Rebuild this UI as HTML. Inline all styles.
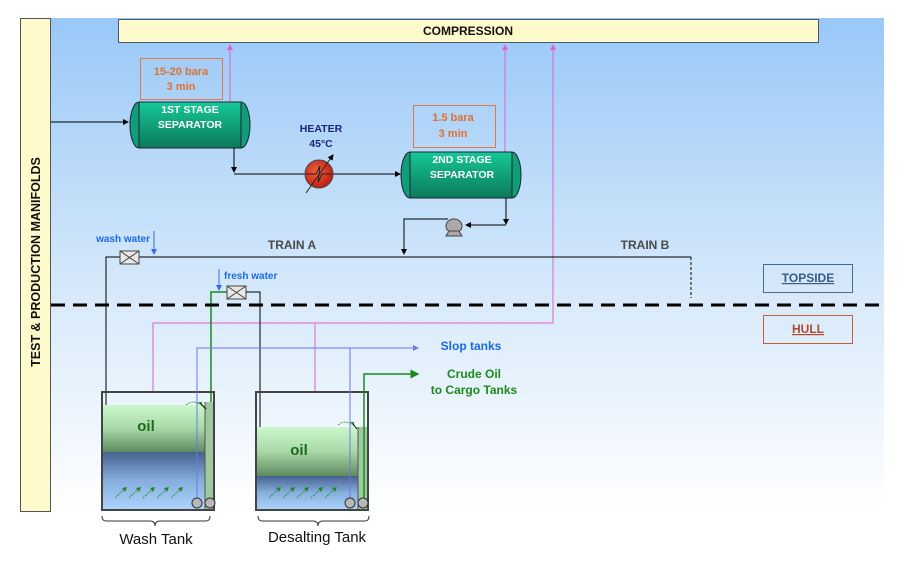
<!DOCTYPE html>
<html><head><meta charset="utf-8"><style>
html,body{margin:0;padding:0;background:#fff;width:910px;height:576px;overflow:hidden}
text{font-family:"Liberation Sans",Arial,sans-serif}
</style></head><body>
<svg width="910" height="576" viewBox="0 0 910 576" xmlns="http://www.w3.org/2000/svg">
<defs>
<linearGradient id="bg" x1="0" y1="0" x2="0" y2="1">
<stop offset="0" stop-color="#99c8f8"/><stop offset="0.55" stop-color="#d6e9fa"/><stop offset="1" stop-color="#ffffff"/></linearGradient>
<linearGradient id="sep" x1="0" y1="0" x2="0" y2="1">
<stop offset="0" stop-color="#16c898"/><stop offset="1" stop-color="#0a7a5a"/></linearGradient>
<linearGradient id="oil" x1="0" y1="0" x2="0" y2="1">
<stop offset="0" stop-color="#ccf8cc"/><stop offset="0.5" stop-color="#a8d8a8"/><stop offset="1" stop-color="#5e8a60"/></linearGradient>
<linearGradient id="wat" x1="0" y1="0" x2="0" y2="1">
<stop offset="0" stop-color="#46628e"/><stop offset="0.5" stop-color="#86aede"/><stop offset="1" stop-color="#aad2fa"/></linearGradient>
<radialGradient id="heat" cx="0.4" cy="0.4" r="0.6"><stop offset="0" stop-color="#f06040"/><stop offset="1" stop-color="#c02010"/></radialGradient>
<marker id="a" markerWidth="6" markerHeight="6" refX="5" refY="3" orient="auto"><path d="M0,0 L6,3 L0,6z" fill="#000"/></marker>
<marker id="ap" markerWidth="6" markerHeight="6" refX="5" refY="3" orient="auto"><path d="M0,0 L6,3 L0,6z" fill="#e060d0"/></marker>
<marker id="ab" markerWidth="6" markerHeight="6" refX="5" refY="3" orient="auto"><path d="M0,0 L6,3 L0,6z" fill="#3a6ae8"/></marker>
<marker id="as" markerWidth="6" markerHeight="6" refX="5" refY="3" orient="auto"><path d="M0,0 L6,3 L0,6z" fill="#6a7ae8"/></marker>
<marker id="ag" markerWidth="6" markerHeight="6" refX="5" refY="3" orient="auto"><path d="M0,0 L6,3 L0,6z" fill="#1a8a1a"/></marker>
</defs>
<rect x="20" y="18" width="864" height="494" fill="url(#bg)"/>
<rect x="20.5" y="18.5" width="30" height="493" fill="#fffacc" stroke="#555"/>
<text transform="translate(40,262) rotate(-90)" text-anchor="middle" font-size="12.5" font-weight="bold" fill="#111">TEST &amp; PRODUCTION MANIFOLDS</text>
<rect x="118.5" y="19.5" width="700" height="23" fill="#fffacc" stroke="#4a5a6a"/>
<text x="468" y="35" text-anchor="middle" font-size="12" font-weight="bold" fill="#111">COMPRESSION</text>
<line x1="51" y1="122" x2="128" y2="122" stroke="#000" marker-end="url(#a)"/>
<rect x="140.5" y="58.5" width="82" height="41" fill="none" stroke="#e0784a"/>
<text x="181" y="75" text-anchor="middle" font-size="11" font-weight="bold" fill="#e07030">15-20 bara</text>
<text x="181" y="90" text-anchor="middle" font-size="11" font-weight="bold" fill="#e07030">3 min</text>
<rect x="413.5" y="105.5" width="82" height="42" fill="none" stroke="#e0784a"/>
<text x="453" y="121" text-anchor="middle" font-size="11" font-weight="bold" fill="#e07030">1.5 bara</text>
<text x="453" y="137" text-anchor="middle" font-size="11" font-weight="bold" fill="#e07030">3 min</text>
<line x1="230" y1="102" x2="230" y2="45" stroke="#e060d0" marker-end="url(#ap)"/>
<line x1="505" y1="152" x2="505" y2="45" stroke="#e060d0" marker-end="url(#ap)"/>
<polyline points="153,392 153,323 553,323 553,45" fill="none" stroke="#e060d0" marker-end="url(#ap)"/>
<line x1="315" y1="323" x2="315" y2="392" stroke="#e060d0"/>
<g stroke="#223" stroke-width="1">
<ellipse cx="139" cy="125" rx="9" ry="23" fill="#0e9e78"/>
<ellipse cx="241" cy="125" rx="9" ry="23" fill="#0e9e78"/>
<rect x="139" y="102" width="102" height="46" fill="url(#sep)"/>
<ellipse cx="410" cy="175" rx="9" ry="23" fill="#0e9e78"/>
<ellipse cx="512" cy="175" rx="9" ry="23" fill="#0e9e78"/>
<rect x="410" y="152" width="102" height="46" fill="url(#sep)"/>
</g>
<text x="190" y="113" text-anchor="middle" font-size="10.5" font-weight="bold" fill="#fff">1ST STAGE</text>
<text x="190" y="128" text-anchor="middle" font-size="10.5" font-weight="bold" fill="#fff">SEPARATOR</text>
<text x="462" y="163" text-anchor="middle" font-size="10.5" font-weight="bold" fill="#fff">2ND STAGE</text>
<text x="462" y="178" text-anchor="middle" font-size="10.5" font-weight="bold" fill="#fff">SEPARATOR</text>
<line x1="234" y1="148" x2="234" y2="172" stroke="#000" marker-end="url(#a)"/>
<polyline points="234,174 400,174" fill="none" stroke="#000" marker-end="url(#a)"/>
<circle cx="319" cy="174" r="14" fill="url(#heat)" stroke="#444"/>
<polyline points="306,174 316,174 320,166 318,182 322,174 332,174" fill="none" stroke="#222"/>
<line x1="306" y1="193" x2="333" y2="155" stroke="#222" marker-end="url(#a)"/>
<text x="321" y="132" text-anchor="middle" font-size="10.5" font-weight="bold" fill="#1a237e">HEATER</text>
<text x="321" y="147" text-anchor="middle" font-size="10.5" font-weight="bold" fill="#1a237e">45°C</text>
<line x1="506" y1="198" x2="506" y2="224" stroke="#000" marker-end="url(#a)"/>
<line x1="506" y1="225" x2="466" y2="225" stroke="#000" marker-end="url(#a)"/>
<ellipse cx="454" cy="226" rx="8" ry="7" fill="#aaa" stroke="#444"/>
<path d="M446,236 L449,231 L459,231 L462,236z" fill="#aaa" stroke="#444"/>
<polyline points="448,219 404,219 404,254" fill="none" stroke="#000" marker-end="url(#a)"/>
<polyline points="106,500 106,257 691,257" fill="none" stroke="#000"/>
<line x1="691" y1="257" x2="691" y2="298" stroke="#000" stroke-dasharray="3,2"/>
<text x="292" y="249" text-anchor="middle" font-size="12" font-weight="bold" fill="#4a4a4a">TRAIN A</text>
<text x="645" y="249" text-anchor="middle" font-size="12" font-weight="bold" fill="#4a4a4a">TRAIN B</text>
<line x1="106" y1="500" x2="178" y2="500" stroke="#000"/>
<rect x="120" y="251" width="19" height="13" fill="#e8e8e8" stroke="#444"/>
<path d="M120,251 L139,264 M139,251 L120,264" stroke="#444"/>
<line x1="154" y1="231" x2="154" y2="254" stroke="#3a6ae8" marker-end="url(#ab)"/>
<text x="150" y="242" text-anchor="end" font-size="10" font-weight="bold" fill="#1a6ae8">wash water</text>
<line x1="219" y1="269" x2="219" y2="290" stroke="#3a6ae8" marker-end="url(#ab)"/>
<text x="224" y="279" font-size="10" font-weight="bold" fill="#1a6ae8">fresh water</text>
<polyline points="211,500 211,292 227,292" fill="none" stroke="#1a8a1a" stroke-width="1.5"/>
<rect x="227" y="286" width="19" height="13" fill="#e8e8e8" stroke="#444"/>
<path d="M227,286 L246,299 M246,286 L227,299" stroke="#444"/>
<polyline points="246,292 260,292 260,500 330,500" fill="none" stroke="#000"/>
<line x1="51" y1="305" x2="884" y2="305" stroke="#000" stroke-width="3" stroke-dasharray="14,8"/>
<rect x="763.5" y="264.5" width="89" height="28" fill="none" stroke="#4a6a8a"/>
<text x="808" y="282" text-anchor="middle" font-size="12" font-weight="bold" fill="#3a5a8a" text-decoration="underline">TOPSIDE</text>
<rect x="763.5" y="315.5" width="89" height="28" fill="none" stroke="#c0603a"/>
<text x="808" y="333" text-anchor="middle" font-size="12" font-weight="bold" fill="#b04a2a" text-decoration="underline">HULL</text>
<rect x="103" y="405" width="102" height="47" fill="url(#oil)"/>
<rect x="103" y="452" width="110" height="57" fill="url(#wat)"/>
<rect x="205" y="402" width="8" height="107" fill="#a0c8a0"/>
<line x1="205" y1="402" x2="205" y2="509" stroke="#555"/>
<text x="146" y="431" text-anchor="middle" font-size="15" font-weight="bold" fill="#1a6a1a">oil</text>
<rect x="102" y="392" width="112" height="118" fill="none" stroke="#444" stroke-width="2"/>
<rect x="257" y="427" width="101" height="49" fill="url(#oil)"/>
<rect x="257" y="476" width="110" height="33" fill="url(#wat)"/>
<rect x="358" y="427" width="9" height="82" fill="#a0c8a0"/>
<line x1="358" y1="427" x2="358" y2="509" stroke="#555"/>
<text x="299" y="455" text-anchor="middle" font-size="15" font-weight="bold" fill="#1a6a1a">oil</text>
<rect x="256" y="392" width="112" height="118" fill="none" stroke="#444" stroke-width="2"/>
<g stroke="#1a8a1a" fill="none" stroke-width="0.8" stroke-dasharray="2,1">
<path d="M115,498 q4,-4 10,-9"/><path d="M129,498 q4,-4 10,-9"/><path d="M143,498 q4,-4 10,-9"/><path d="M157,498 q4,-4 10,-9"/><path d="M171,498 q4,-4 10,-9"/>
<path d="M269,498 q4,-4 10,-9"/><path d="M283,498 q4,-4 10,-9"/><path d="M297,498 q4,-4 10,-9"/><path d="M311,498 q4,-4 10,-9"/><path d="M325,498 q4,-4 10,-9"/>
<path d="M186,405 q8,-6 14,0"/><path d="M338,425 q8,-6 14,0"/>
</g>
<g fill="#1a8a1a">
<path d="M122,488 l5,-1 l-2,5z"/><path d="M136,488 l5,-1 l-2,5z"/><path d="M150,488 l5,-1 l-2,5z"/><path d="M164,488 l5,-1 l-2,5z"/><path d="M178,488 l5,-1 l-2,5z"/>
<path d="M276,488 l5,-1 l-2,5z"/><path d="M290,488 l5,-1 l-2,5z"/><path d="M304,488 l5,-1 l-2,5z"/><path d="M318,488 l5,-1 l-2,5z"/><path d="M332,488 l5,-1 l-2,5z"/>
<path d="M198,402 l4,0 l0,4z"/><path d="M350,422 l4,0 l0,4z"/>
</g>
<line x1="201" y1="404" x2="206" y2="409" stroke="#000"/>
<line x1="353" y1="424" x2="357" y2="429" stroke="#000"/>
<polyline points="197,500 197,348 418,348" fill="none" stroke="#6a7ae8" marker-end="url(#as)"/>
<line x1="350" y1="348" x2="350" y2="500" stroke="#6a7ae8"/>
<text x="471" y="350" text-anchor="middle" font-size="12" font-weight="bold" fill="#1a6ae0">Slop tanks</text>
<polyline points="364,500 364,374 418,374" fill="none" stroke="#1a8a1a" stroke-width="1.5" marker-end="url(#ag)"/>
<text x="474" y="378" text-anchor="middle" font-size="12" font-weight="bold" fill="#1a8a1a">Crude Oil</text>
<text x="474" y="394" text-anchor="middle" font-size="12" font-weight="bold" fill="#1a8a1a">to Cargo Tanks</text>
<g fill="#b8b8b8" stroke="#333">
<circle cx="197" cy="503" r="5"/><circle cx="210" cy="503" r="5"/>
<circle cx="350" cy="503" r="5"/><circle cx="363" cy="503" r="5"/>
</g>
<path d="M102,516 q0,5 4,5 L150,521 q5,0 5,5 q0,-5 5,-5 L206,521 q4,0 4,-5" fill="none" stroke="#333"/>
<path d="M258,516 q0,5 4,5 L313,521 q5,0 5,5 q0,-5 5,-5 L365,521 q4,0 4,-5" fill="none" stroke="#333"/>
<text x="156" y="544" text-anchor="middle" font-size="15" fill="#111">Wash Tank</text>
<text x="317" y="542" text-anchor="middle" font-size="15" fill="#111">Desalting Tank</text>
</svg>
</body></html>
